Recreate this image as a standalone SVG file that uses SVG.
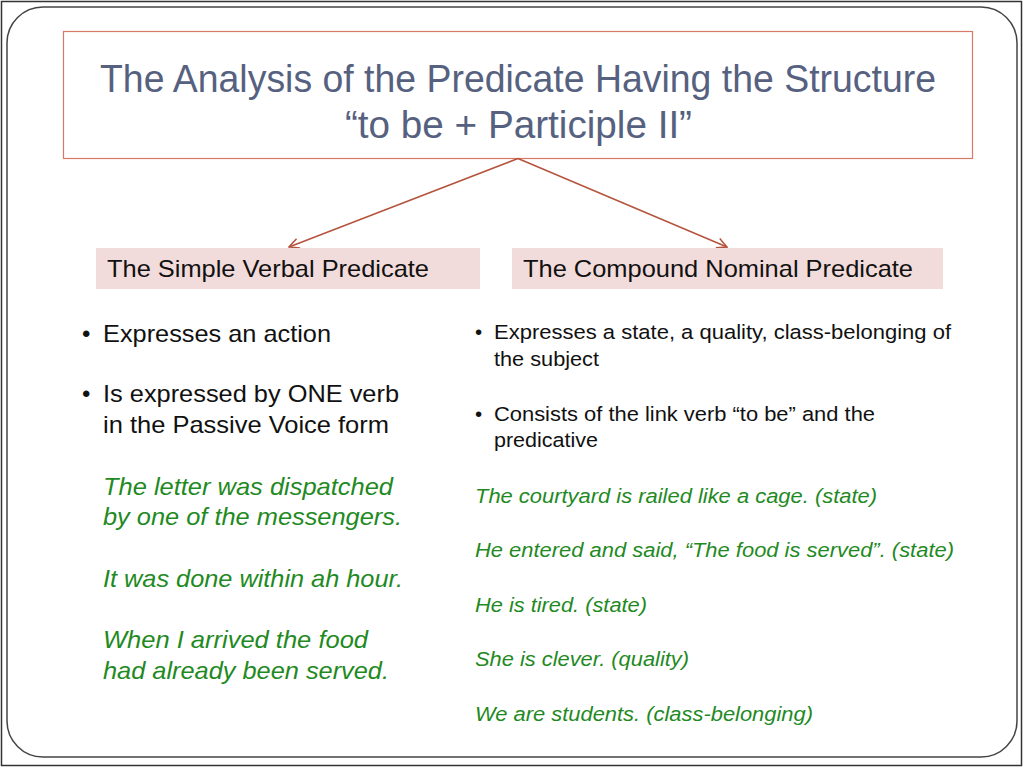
<svg xmlns="http://www.w3.org/2000/svg" width="1024" height="768" viewBox="0 0 1024 768">
<style>
.frame{fill:none;stroke:#444;stroke-width:1.5}
.title{font-family:"Liberation Sans",Arial,sans-serif;font-size:38px;fill:#56617f}
.sub{font-family:"Liberation Sans",Arial,sans-serif;font-size:24px;fill:#111}
.subbox{fill:#f2dcdb}
.bl{font-family:"Liberation Sans",Arial,sans-serif;font-size:24px;fill:#111}
.br{font-family:"Liberation Sans",Arial,sans-serif;font-size:20.5px;fill:#111}
.gl{font-family:"Liberation Sans",Arial,sans-serif;font-size:24px;font-style:italic;fill:#1f8a1f}
.gr{font-family:"Liberation Sans",Arial,sans-serif;font-size:20.5px;font-style:italic;fill:#1f8a1f}
.conn{fill:none;stroke:#b5533c;stroke-width:1.5}
</style>
<defs>
<marker id="arr" viewBox="0 0 12 12" refX="11" refY="6" markerWidth="12" markerHeight="12" markerUnits="userSpaceOnUse" orient="auto">
<path d="M1,1 L11,6 L1,11" fill="none" stroke="#b5533c" stroke-width="1.5"/>
</marker>
</defs>
<rect x="0" y="0" width="1024" height="768" fill="#fff"/>
<rect class="frame" x="1.5" y="1.5" width="1020" height="764" style="stroke:#333"/>
<rect class="frame" x="7" y="7" width="1010" height="750" rx="36" ry="36"/>

<g id="title">
<rect x="63.5" y="31.5" width="909" height="127" fill="#fff" stroke="#d57a66" stroke-width="1.2"/>
<text class="title" x="100" y="92" textLength="836" lengthAdjust="spacingAndGlyphs">The Analysis of the Predicate Having the Structure</text>
<text class="title" x="345" y="138" textLength="347" lengthAdjust="spacingAndGlyphs">“to be + Participle II”</text>
</g>

<g id="connectors">
<line class="conn" x1="518" y1="158.5" x2="289" y2="247" marker-end="url(#arr)"/>
<line class="conn" x1="518" y1="158.5" x2="727" y2="247" marker-end="url(#arr)"/>
</g>

<g id="simple-verbal">
<rect class="subbox" x="96" y="248" width="384" height="41"/>
<text class="sub" x="107" y="277" textLength="322" lengthAdjust="spacingAndGlyphs">The Simple Verbal Predicate</text>
</g>

<g id="compound-nominal">
<rect class="subbox" x="512" y="248" width="431" height="41"/>
<text class="sub" x="523" y="277" textLength="390" lengthAdjust="spacingAndGlyphs">The Compound Nominal Predicate</text>
</g>

<g id="left-column">
<text class="bl" x="82" y="342">•</text>
<text class="bl" x="103" y="342" textLength="228" lengthAdjust="spacingAndGlyphs">Expresses an action</text>
<text class="bl" x="82" y="402">•</text>
<text class="bl" x="103" y="402" textLength="296" lengthAdjust="spacingAndGlyphs">Is expressed by ONE verb</text>
<text class="bl" x="103" y="433" textLength="286" lengthAdjust="spacingAndGlyphs">in the Passive Voice form</text>
<text class="gl" x="103" y="495" textLength="290" lengthAdjust="spacingAndGlyphs">The letter was dispatched</text>
<text class="gl" x="103" y="525" textLength="299" lengthAdjust="spacingAndGlyphs">by one of the messengers.</text>
<text class="gl" x="103" y="587" textLength="300" lengthAdjust="spacingAndGlyphs">It was done within ah hour.</text>
<text class="gl" x="103" y="648" textLength="265" lengthAdjust="spacingAndGlyphs">When I arrived the food</text>
<text class="gl" x="103" y="679" textLength="286" lengthAdjust="spacingAndGlyphs">had already been served.</text>
</g>

<g id="right-column">
<text class="br" x="475" y="339">•</text>
<text class="br" x="494" y="339" textLength="457" lengthAdjust="spacingAndGlyphs">Expresses a state, a quality, class-belonging of</text>
<text class="br" x="494" y="366" textLength="105" lengthAdjust="spacingAndGlyphs">the subject</text>
<text class="br" x="475" y="421">•</text>
<text class="br" x="494" y="421" textLength="381" lengthAdjust="spacingAndGlyphs">Consists of the link verb “to be” and the</text>
<text class="br" x="494" y="447" textLength="104" lengthAdjust="spacingAndGlyphs">predicative</text>
<text class="gr" x="475" y="503" textLength="402" lengthAdjust="spacingAndGlyphs">The courtyard is railed like a cage. (state)</text>
<text class="gr" x="475" y="557" textLength="479" lengthAdjust="spacingAndGlyphs">He entered and said, “The food is served”. (state)</text>
<text class="gr" x="475" y="612" textLength="172" lengthAdjust="spacingAndGlyphs">He is tired. (state)</text>
<text class="gr" x="475" y="666" textLength="214" lengthAdjust="spacingAndGlyphs">She is clever. (quality)</text>
<text class="gr" x="475" y="721" textLength="338" lengthAdjust="spacingAndGlyphs">We are students. (class-belonging)</text>
</g>
</svg>
